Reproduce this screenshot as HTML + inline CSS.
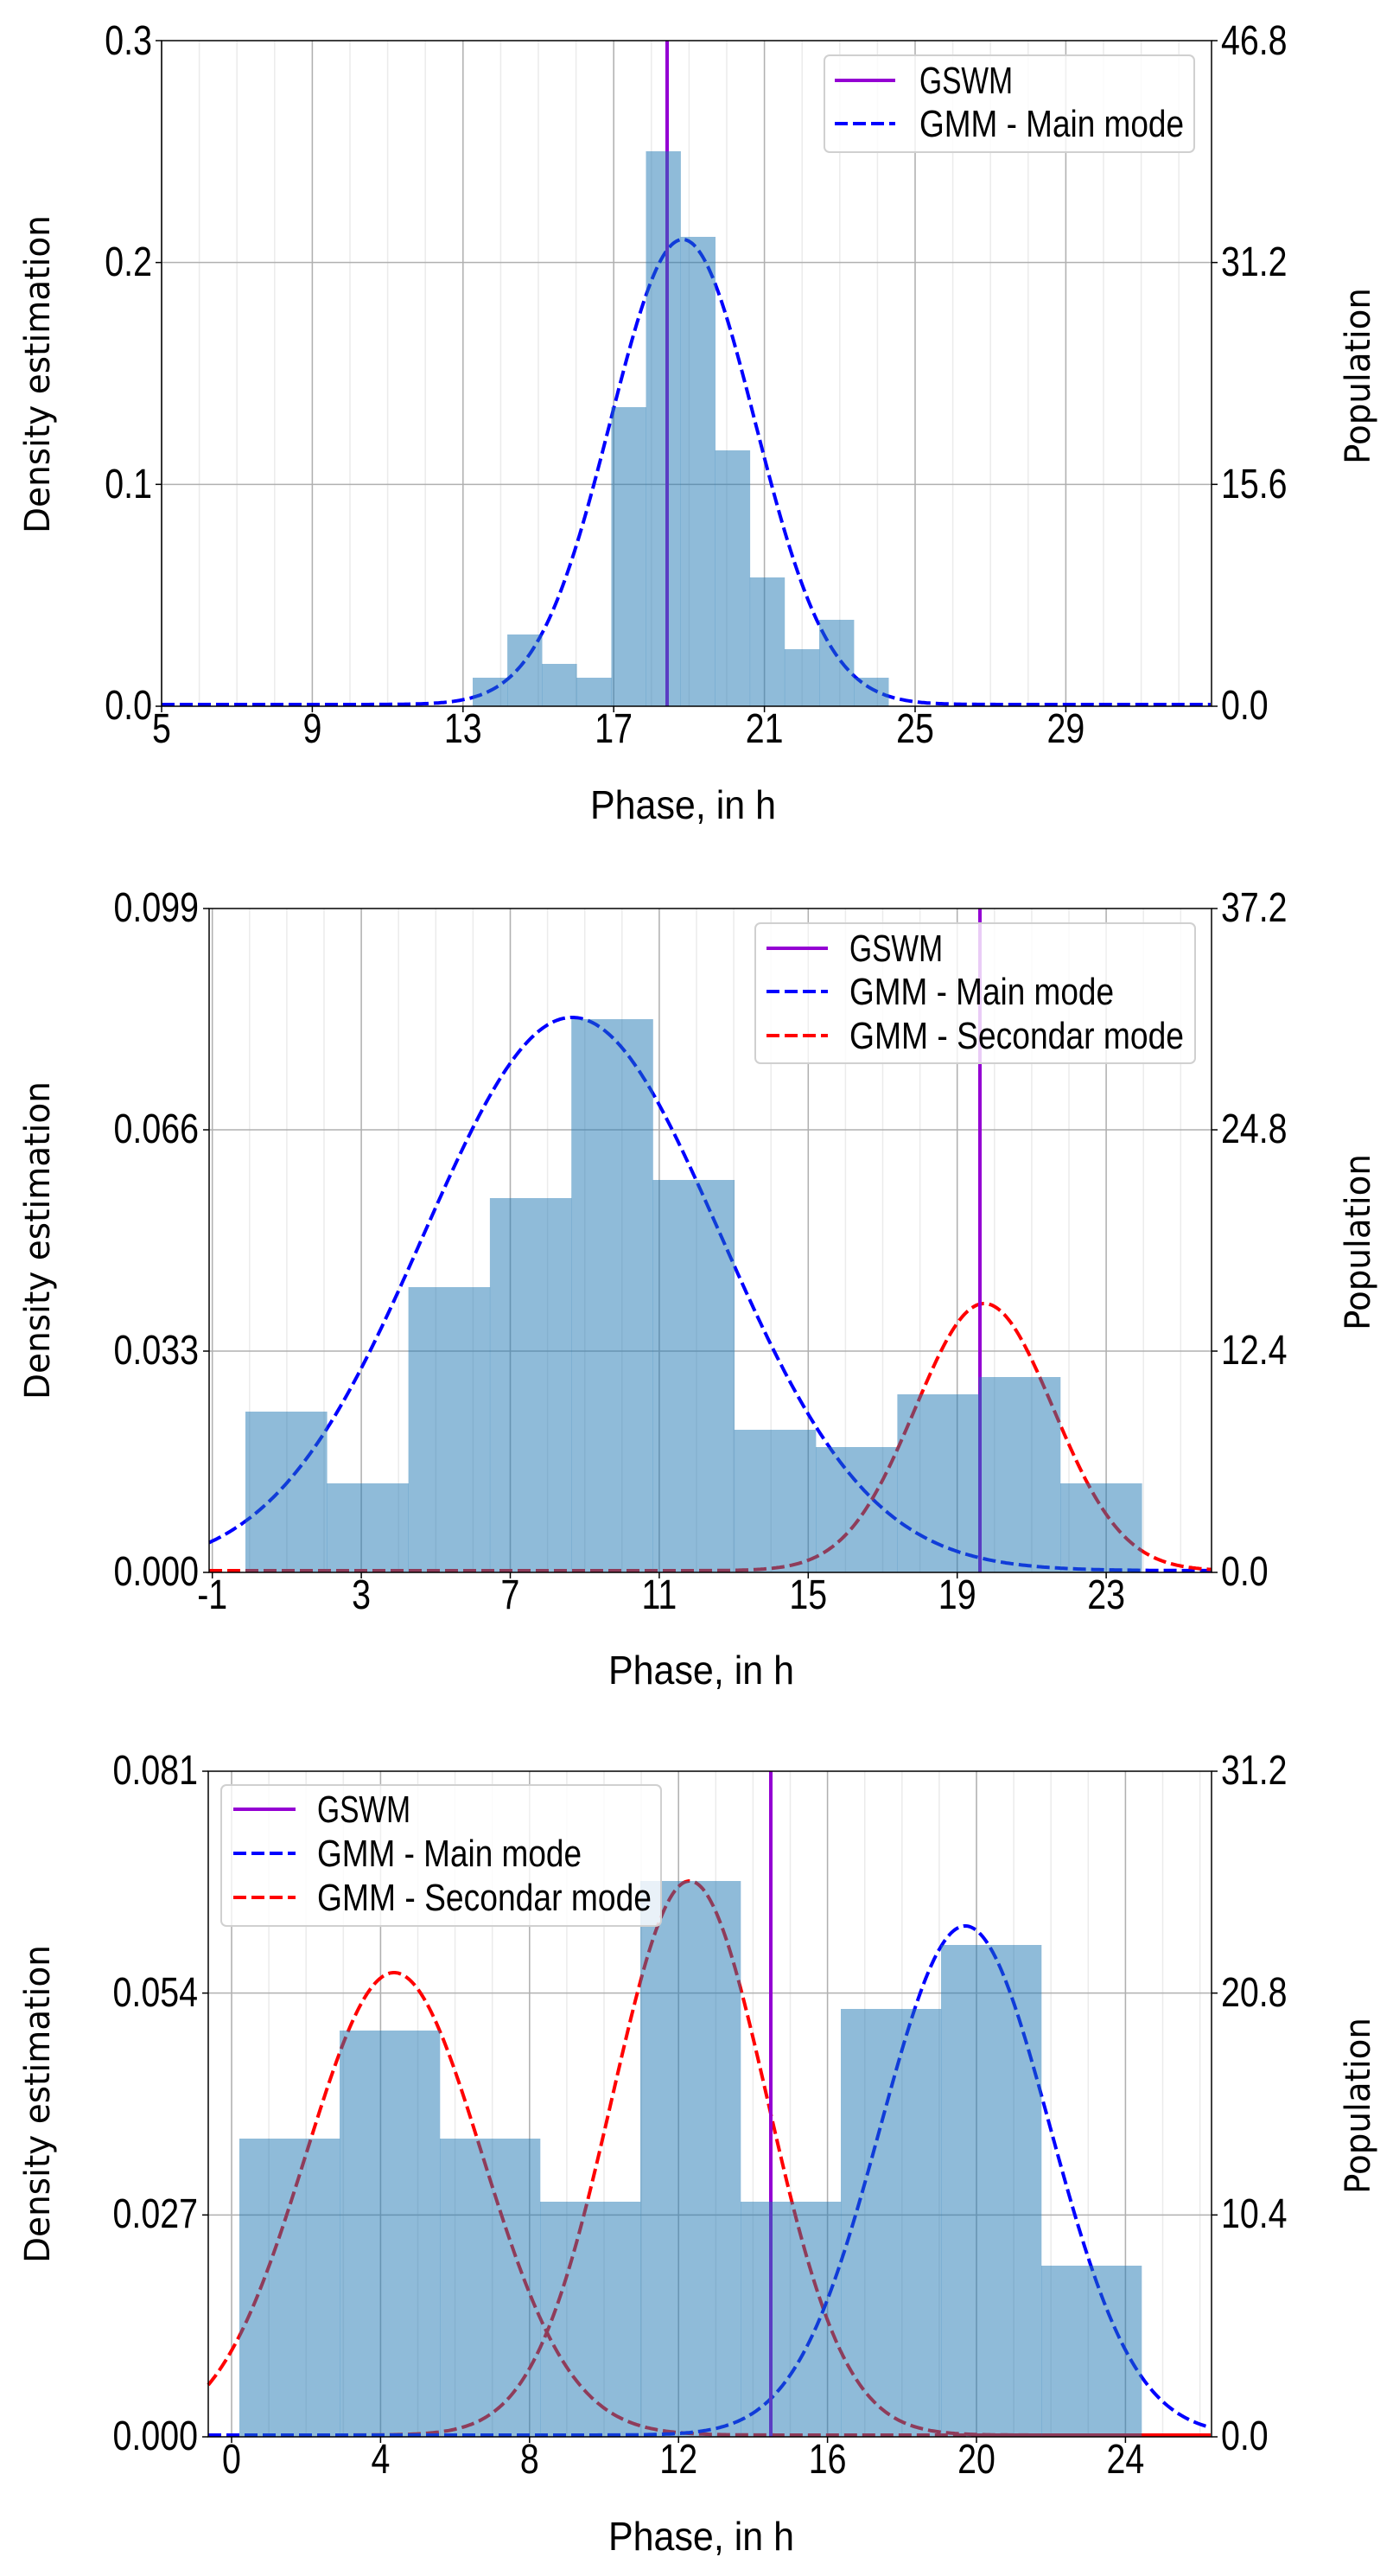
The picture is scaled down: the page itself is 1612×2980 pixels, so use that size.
<!DOCTYPE html>
<html><head><meta charset="utf-8"><style>
html,body{margin:0;padding:0;background:#fff;}
svg{display:block;}
.tk{font-family:"Liberation Sans",sans-serif;font-size:48px;fill:#000;}
.tk text{transform-box:fill-box;transform:scaleX(0.82);}
.te text{transform-origin:right center;}
.ts text{transform-origin:left center;}
.tm text{transform-origin:center center;}
.al{font-family:"DejaVu Sans","Liberation Sans",sans-serif;font-size:40px;fill:#000;}
.xl{font-family:"Liberation Sans",sans-serif;font-size:46px;fill:#000;}
.lg{font-family:"Liberation Sans",sans-serif;font-size:44px;fill:#000;}
</style></head><body>
<svg id="s" width="1612" height="2980" xmlns="http://www.w3.org/2000/svg">
<g id="g"></g>
<g class="tk te" text-anchor="end">
<text x="176" y="63">0.3</text><text x="176" y="319">0.2</text><text x="176" y="576">0.1</text><text x="176" y="832">0.0</text>
<text x="230" y="1066">0.099</text><text x="230" y="1322">0.066</text><text x="230" y="1578">0.033</text><text x="230" y="1834">0.000</text>
<text x="229" y="2064">0.081</text><text x="229" y="2321">0.054</text><text x="229" y="2577">0.027</text><text x="229" y="2834">0.000</text>
</g>
<g class="tk ts" text-anchor="start">
<text x="1413" y="63">46.8</text><text x="1413" y="319">31.2</text><text x="1413" y="576">15.6</text><text x="1413" y="832">0.0</text>
<text x="1413" y="1066">37.2</text><text x="1413" y="1322">24.8</text><text x="1413" y="1578">12.4</text><text x="1413" y="1834">0.0</text>
<text x="1413" y="2064">31.2</text><text x="1413" y="2321">20.8</text><text x="1413" y="2577">10.4</text><text x="1413" y="2834">0.0</text>
</g>
<g class="tk tm" text-anchor="middle" id="xt"></g>
<g class="al" text-anchor="middle">
<text transform="translate(57,433) rotate(-90)" textLength="368" lengthAdjust="spacingAndGlyphs">Density estimation</text>
<text transform="translate(1585,435) rotate(-90)" textLength="204" lengthAdjust="spacingAndGlyphs">Population</text>
<text transform="translate(57,1435) rotate(-90)" textLength="368" lengthAdjust="spacingAndGlyphs">Density estimation</text>
<text transform="translate(1585,1437) rotate(-90)" textLength="204" lengthAdjust="spacingAndGlyphs">Population</text>
<text transform="translate(57,2434) rotate(-90)" textLength="368" lengthAdjust="spacingAndGlyphs">Density estimation</text>
<text transform="translate(1585,2436) rotate(-90)" textLength="204" lengthAdjust="spacingAndGlyphs">Population</text>
</g>
<g class="xl">
<text x="683" y="947" textLength="215" lengthAdjust="spacingAndGlyphs">Phase, in h</text>
<text x="704" y="1948" textLength="215" lengthAdjust="spacingAndGlyphs">Phase, in h</text>
<text x="704" y="2950" textLength="215" lengthAdjust="spacingAndGlyphs">Phase, in h</text>
</g>
<g id="top"></g>
<g class="lg">
<rect x="954" y="64" width="428" height="112" rx="6" fill="#fff" fill-opacity="0.8" stroke="#d0d0d0" stroke-width="2"/>
<line x1="966" y1="93" x2="1036" y2="93" stroke="#9400d3" stroke-width="4"/>
<line x1="966" y1="143" x2="1036" y2="143" stroke="#0000ff" stroke-width="4" stroke-dasharray="15,6"/>
<text x="1064" y="108" textLength="108" lengthAdjust="spacingAndGlyphs">GSWM</text>
<text x="1064" y="158" textLength="306" lengthAdjust="spacingAndGlyphs">GMM - Main mode</text>

<rect x="874" y="1068" width="509" height="162" rx="6" fill="#fff" fill-opacity="0.8" stroke="#d0d0d0" stroke-width="2"/>
<line x1="887" y1="1097" x2="958" y2="1097" stroke="#9400d3" stroke-width="4"/>
<line x1="887" y1="1147" x2="958" y2="1147" stroke="#0000ff" stroke-width="4" stroke-dasharray="15,6"/>
<line x1="887" y1="1198" x2="958" y2="1198" stroke="#ff0000" stroke-width="4" stroke-dasharray="15,6"/>
<text x="983" y="1112" textLength="108" lengthAdjust="spacingAndGlyphs">GSWM</text>
<text x="983" y="1162" textLength="306" lengthAdjust="spacingAndGlyphs">GMM - Main mode</text>
<text x="983" y="1213" textLength="387" lengthAdjust="spacingAndGlyphs">GMM - Secondar mode</text>

<rect x="256" y="2065" width="509" height="163" rx="6" fill="#fff" fill-opacity="0.8" stroke="#d0d0d0" stroke-width="2"/>
<line x1="270" y1="2093" x2="342" y2="2093" stroke="#9400d3" stroke-width="4"/>
<line x1="270" y1="2144" x2="342" y2="2144" stroke="#0000ff" stroke-width="4" stroke-dasharray="15,6"/>
<line x1="270" y1="2195" x2="342" y2="2195" stroke="#ff0000" stroke-width="4" stroke-dasharray="15,6"/>
<text x="367" y="2108" textLength="108" lengthAdjust="spacingAndGlyphs">GSWM</text>
<text x="367" y="2159" textLength="306" lengthAdjust="spacingAndGlyphs">GMM - Main mode</text>
<text x="367" y="2210" textLength="387" lengthAdjust="spacingAndGlyphs">GMM - Secondar mode</text>
</g>
</svg>
<script>
var NS="http://www.w3.org/2000/svg",g=document.getElementById('g'),xt=document.getElementById('xt');
function el(p,t,a,txt){var e=document.createElementNS(NS,t);for(var k in a)e.setAttribute(k,a[k]);if(txt!==undefined)e.textContent=txt;p.appendChild(e);return e;}
function plot(o){
 var L=o.L,R=1402,T=o.T,B=o.B;
 for(var x=o.x0;x<=R+0.5;x+=o.u){if(x<L-0.5)continue;el(g,'line',{x1:x,y1:T,x2:x,y2:B,stroke:'#ebebeb','stroke-width':1.5});}
 o.ticks.forEach(function(t){var x=o.x0+(t[0])*o.u;el(g,'line',{x1:x,y1:T,x2:x,y2:B,stroke:'#b0b0b0','stroke-width':1.5});
  el(g,'line',{x1:x,y1:B,x2:x,y2:B+7,stroke:'#000','stroke-width':1.5});
  el(xt,'text',{x:x,y:B+42},t[1]);});
 [1,2].forEach(function(i){var y=B-(B-T)*i/3;el(g,'line',{x1:L,y1:y,x2:R,y2:y,stroke:'#b0b0b0','stroke-width':1.5});});
 [0,1,2,3].forEach(function(i){var y=B-(B-T)*i/3;el(g,'line',{x1:L-7,y1:y,x2:L,y2:y,stroke:'#000','stroke-width':1.5});el(g,'line',{x1:R,y1:y,x2:R+7,y2:y,stroke:'#000','stroke-width':1.5});});
 o.curves.forEach(function(c){var d='';for(var x=L;x<=R;x+=2){var y=B-2-c.h*Math.exp(-Math.pow(x-c.m,2)/(2*c.s*c.s));d+=(d?'L':'M')+x.toFixed(1)+','+y.toFixed(1);}
  el(g,'path',{d:d,fill:'none',stroke:c.c,'stroke-width':4,'stroke-dasharray':'15,6'});});
 el(g,'line',{x1:o.gs,y1:T,x2:o.gs,y2:B,stroke:'#9400d3','stroke-width':4});
 o.bars.forEach(function(b,i){var x=o.b0+i*o.bw;el(g,'rect',{x:x,y:b,width:o.bw+0.3,height:B-b,fill:'#1f77b4','fill-opacity':0.5});});
 el(g,'rect',{x:L,y:T,width:R-L,height:B-T,fill:'none',stroke:'#000','stroke-width':1.5});
}
plot({L:187,T:47,B:817,x0:187,u:43.6,
 ticks:[[0,'5'],[4,'9'],[8,'13'],[12,'17'],[16,'21'],[20,'25'],[24,'29']],
 curves:[{m:790,s:84,h:538,c:'#0000ff'}],gs:772,
 b0:547,bw:40.1,bars:[784,734,768,784,471,175,274,521,668,751,717,784]});
plot({L:242,T:1051,B:1819,x0:245.7,u:43.1,
 ticks:[[0,'-1'],[4,'3'],[8,'7'],[12,'11'],[16,'15'],[20,'19'],[24,'23']],
 curves:[{m:662,s:172,h:640,c:'#0000ff'},{m:1139,s:80,h:309,c:'#ff0000'}],gs:1134,
 b0:284,bw:94.3,bars:[1633,1716,1489,1386,1179,1365,1654,1674,1613,1593,1716]});
plot({L:241,T:2049,B:2819,x0:268,u:43.1,
 ticks:[[0,'0'],[4,'4'],[8,'8'],[12,'12'],[16,'16'],[20,'20'],[24,'24']],
 curves:[{m:456,s:102,h:535,c:'#ff0000'},{m:798,s:90,h:641,c:'#ff0000'},{m:1117,s:98,h:589,c:'#0000ff'}],gs:892,
 b0:277,bw:116,bars:[2474,2349,2474,2547,2176,2547,2324,2250,2621]});
</script>
</body></html>
